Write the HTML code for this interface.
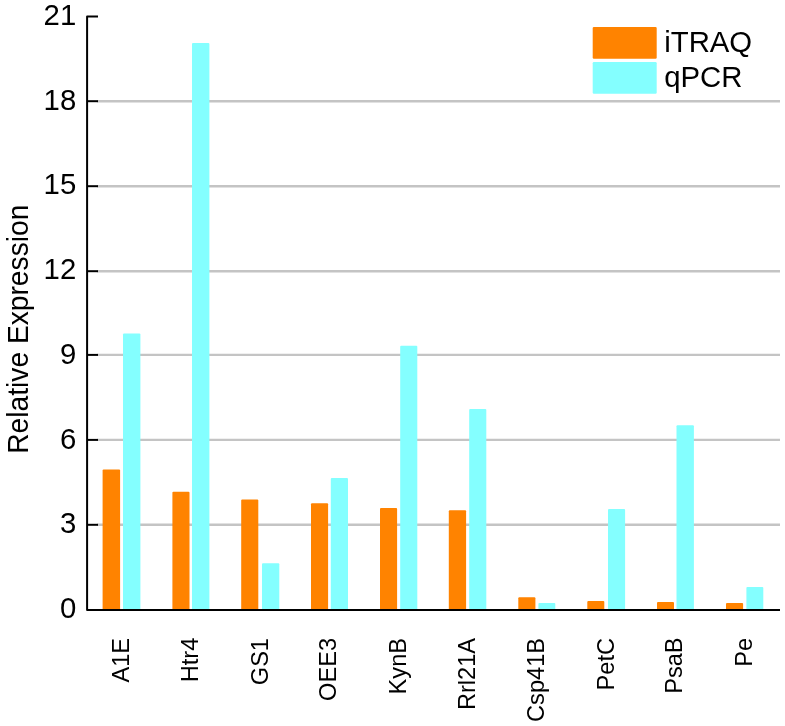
<!DOCTYPE html>
<html><head><meta charset="utf-8"><title>Relative Expression</title>
<style>
html,body{margin:0;padding:0;background:#fff;}
body{width:785px;height:726px;overflow:hidden;}
svg{display:block;}
text{font-family:"Liberation Sans", Arial, sans-serif;fill:#000;}
.tk{font-size:29.33px;}
.lg{font-size:29.33px;}
.ti{font-size:28.2px;}
.xl{font-size:23.6px;}
</style></head>
<body>
<svg width="785" height="726" viewBox="0 0 785 726">
<rect width="785" height="726" fill="#fff"/>
<line x1="97" y1="524.80" x2="780" y2="524.80" stroke="#C4C4C4" stroke-width="2.4"/>
<line x1="97" y1="439.90" x2="780" y2="439.90" stroke="#C4C4C4" stroke-width="2.4"/>
<line x1="97" y1="354.90" x2="780" y2="354.90" stroke="#C4C4C4" stroke-width="2.4"/>
<line x1="97" y1="271.20" x2="780" y2="271.20" stroke="#C4C4C4" stroke-width="2.4"/>
<line x1="97" y1="186.20" x2="780" y2="186.20" stroke="#C4C4C4" stroke-width="2.4"/>
<line x1="97" y1="101.20" x2="780" y2="101.20" stroke="#C4C4C4" stroke-width="2.4"/>
<rect x="102.60" y="469.50" width="17.50" height="141.50" rx="1" fill="#FF8300"/>
<rect x="123.00" y="333.60" width="17.40" height="277.40" rx="1" fill="#84FFFF"/>
<rect x="172.40" y="491.70" width="17.10" height="119.30" rx="1" fill="#FF8300"/>
<rect x="192.00" y="43.10" width="17.40" height="567.90" rx="1" fill="#84FFFF"/>
<rect x="241.20" y="499.40" width="17.10" height="111.60" rx="1" fill="#FF8300"/>
<rect x="262.00" y="563.30" width="17.30" height="47.70" rx="1" fill="#84FFFF"/>
<rect x="311.00" y="503.20" width="17.10" height="107.80" rx="1" fill="#FF8300"/>
<rect x="330.80" y="478.00" width="17.20" height="133.00" rx="1" fill="#84FFFF"/>
<rect x="380.00" y="507.90" width="17.10" height="103.10" rx="1" fill="#FF8300"/>
<rect x="400.20" y="345.70" width="17.10" height="265.30" rx="1" fill="#84FFFF"/>
<rect x="448.80" y="510.20" width="17.30" height="100.80" rx="1" fill="#FF8300"/>
<rect x="469.20" y="408.90" width="17.10" height="202.10" rx="1" fill="#84FFFF"/>
<rect x="518.30" y="597.30" width="17.10" height="13.70" rx="1" fill="#FF8300"/>
<rect x="538.40" y="602.90" width="16.90" height="8.10" rx="1" fill="#84FFFF"/>
<rect x="587.30" y="601.10" width="17.00" height="9.90" rx="1" fill="#FF8300"/>
<rect x="608.00" y="509.10" width="17.10" height="101.90" rx="1" fill="#84FFFF"/>
<rect x="657.00" y="601.90" width="17.00" height="9.10" rx="1" fill="#FF8300"/>
<rect x="676.50" y="425.20" width="17.40" height="185.80" rx="1" fill="#84FFFF"/>
<rect x="726.00" y="602.90" width="17.10" height="8.10" rx="1" fill="#FF8300"/>
<rect x="746.40" y="586.90" width="16.90" height="24.10" rx="1" fill="#84FFFF"/>
<path d="M98 16.60 H87.1 V610 H780" fill="none" stroke="#000" stroke-width="2.0" stroke-linejoin="round" stroke-linecap="butt"/>
<line x1="87" y1="524.80" x2="98" y2="524.80" stroke="#000" stroke-width="2.0"/>
<line x1="87" y1="439.90" x2="98" y2="439.90" stroke="#000" stroke-width="2.0"/>
<line x1="87" y1="354.90" x2="98" y2="354.90" stroke="#000" stroke-width="2.0"/>
<line x1="87" y1="271.20" x2="98" y2="271.20" stroke="#000" stroke-width="2.0"/>
<line x1="87" y1="186.20" x2="98" y2="186.20" stroke="#000" stroke-width="2.0"/>
<line x1="87" y1="101.20" x2="98" y2="101.20" stroke="#000" stroke-width="2.0"/>
<text transform="translate(76.2 617.60) scale(1 1.03)" text-anchor="end" class="tk">0</text>
<text transform="translate(76.2 532.70) scale(1 1.03)" text-anchor="end" class="tk">3</text>
<text transform="translate(76.2 448.50) scale(1 1.03)" text-anchor="end" class="tk">6</text>
<text transform="translate(76.2 363.70) scale(1 1.03)" text-anchor="end" class="tk">9</text>
<text transform="translate(76.2 279.20) scale(1 1.03)" text-anchor="end" class="tk">12</text>
<text transform="translate(76.2 194.00) scale(1 1.03)" text-anchor="end" class="tk">15</text>
<text transform="translate(76.2 109.70) scale(1 1.03)" text-anchor="end" class="tk">18</text>
<text transform="translate(76.2 25.00) scale(1 1.03)" text-anchor="end" class="tk">21</text>
<text transform="translate(128.90 638.00) rotate(-90) scale(1 1.04)" text-anchor="end" class="xl">A1E</text>
<text transform="translate(198.43 637.70) rotate(-90) scale(1 1.04)" text-anchor="end" class="xl">Htr4</text>
<text transform="translate(267.86 638.00) rotate(-90) scale(1 1.04)" text-anchor="end" class="xl">GS1</text>
<text transform="translate(336.19 638.00) rotate(-90) scale(1 1.04)" text-anchor="end" class="xl">OEE3</text>
<text transform="translate(405.82 638.00) rotate(-90) scale(1 1.04)" text-anchor="end" class="xl">KynB</text>
<text transform="translate(475.05 638.00) rotate(-90) scale(1 1.04)" text-anchor="end" class="xl">Rrl21A</text>
<text transform="translate(544.28 638.00) rotate(-90) scale(1 1.04)" text-anchor="end" class="xl">Csp41B</text>
<text transform="translate(613.51 638.00) rotate(-90) scale(1 1.04)" text-anchor="end" class="xl">PetC</text>
<text transform="translate(681.84 637.40) rotate(-90) scale(1 1.04)" text-anchor="end" class="xl">PsaB</text>
<text transform="translate(751.97 638.00) rotate(-90) scale(1 1.04)" text-anchor="end" class="xl">Pe</text>
<text transform="translate(28.4 329.2) rotate(-90) scale(1 1.02)" text-anchor="middle" class="ti">Relative Expression</text>
<rect x="592.7" y="26.9" width="64" height="31.8" rx="1.2" fill="#FF8300"/>
<rect x="592.7" y="62.1" width="64" height="31.6" rx="1.2" fill="#84FFFF"/>
<text transform="translate(664.2 52.0)" class="lg">iTRAQ</text>
<text transform="translate(664.2 87.0)" class="lg">qPCR</text>
</svg>
</body></html>
